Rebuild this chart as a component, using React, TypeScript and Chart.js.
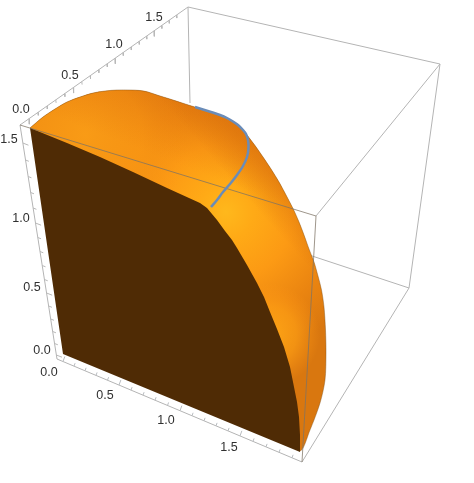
import React, { useEffect, useRef } from "react";
import { Chart, registerables } from "chart.js";

Chart.register(...registerables);

type P = [number, number];

const viewWidth = 474;
const viewHeight = 483;

// Bounding box corners
const boxFrontTopLeft: P = [20, 125];
const boxBackTop: P = [188, 7];
const boxBackRight: P = [440, 64];
const boxFrontTopRight: P = [316, 216];
const boxBottomLeft: P = [57, 359];
const boxBottomFront: P = [302, 462];
const boxBottomRight: P = [409, 288];
const boxHiddenBack: P = [190, 103];
const boxHiddenBottom: P = [300, 252];

// Surface silhouette (the last points lie under the dark cut face)
const surfaceOutline: P[] = [
  [30, 128], [43, 117], [55, 109], [67, 102], [80, 97], [93, 93], [105, 91], [117, 90], [130, 90], [140, 90.5],
  [148, 92], [157, 95], [173, 100], [190, 105.5], [203, 109.5], [217, 114], [227, 118], [236, 124], [242, 129],
  [247, 135], [255, 145.5], [263, 157], [271, 169], [279, 182], [286, 195], [293, 208.5], [299, 222], [304, 235],
  [309, 249], [314, 262], [318, 276], [321.5, 290], [324, 307], [325.5, 330], [326, 353], [325, 380], [320, 403], [310, 430],
  [300, 451], [285, 430], [200, 280], [100, 200],
];

// Flat dark cut face
const cutFace: P[] = [
  [30, 128], [67, 143], [100, 157], [133, 172], [167, 188], [200, 203], [207, 208], [217, 220], [225, 231],
  [232, 240], [237, 248], [247, 265], [257, 283], [264, 297], [270, 312], [277, 329], [284, 347], [290, 367],
  [294, 387], [297, 402], [299, 417], [300, 435], [300, 452], [63, 354],
];

// Blue curve on the surface
const blueCurve: P[] = [
  [211, 207], [217, 200], [223, 192], [230, 184], [237, 175], [243, 166], [247, 157], [248.5, 148], [248, 140],
  [246, 134], [243, 130], [238, 125], [233, 121.5], [227, 118], [220, 115], [211, 112], [203, 109.5], [195, 107],
];

// Tick positions read along the three axes (x of each tick, 0.1 apart)
const topAxisTicks = [29, 38, 47, 55.8, 64.6, 73.3, 81.8, 90.2, 98.6, 107, 115, 123, 131, 139, 146.5, 154, 161.6, 169, 176.5];
const leftAxisTicks = [355, 343.5, 331.5, 319, 306, 293, 279.5, 265.5, 251.5, 237.5, 223, 208, 192.5, 176.5, 160, 143];
const bottomAxisTicks = [63, 74, 85, 96, 107.5, 119, 131, 143, 155, 167.5, 180, 192, 204, 216, 228, 240, 253, 266, 279, 292];
const majorEvery = 5;

// Tick labels
const labelTexts = ["0.0", "0.5", "1.0", "1.5"];
const topAxisLabelPos: P[] = [[21, 110], [70, 76], [114, 45], [154, 18]];
const leftAxisLabelPos: P[] = [[42, 351], [32, 288], [21, 219], [9, 140]];
const bottomAxisLabelPos: P[] = [[49, 373], [105, 396], [166, 421], [229, 448]];

const seg = (...ps: P[]) => [...ps.map(([x, y]) => ({ x, y })), { x: NaN, y: NaN }];
const pts = (ps: P[]) => ps.map(([x, y]) => ({ x, y }));

const lerpOn = (a: P, b: P, x: number): P => [x, a[1] + ((x - a[0]) * (b[1] - a[1])) / (b[0] - a[0])];
const lerpOnY = (a: P, b: P, y: number): P => [a[0] + ((y - a[1]) * (b[0] - a[0])) / (b[1] - a[1]), y];

const topTicks = topAxisTicks.flatMap((x, i) => {
  const p = lerpOn(boxFrontTopLeft, boxBackTop, x);
  const l = i % majorEvery === 0 ? 5.5 : 3;
  return seg(p, [p[0] + 0.3, p[1] + l]);
});
const leftTicks = leftAxisTicks.flatMap((y, i) => {
  const p = lerpOnY(boxFrontTopLeft, boxBottomLeft, y);
  const l = i % majorEvery === 0 ? 1.7 : 1;
  return seg(p, [p[0] + 3.3 * l, p[1] + 1.3 * l]);
});
const bottomTicks = bottomAxisTicks.flatMap((x, i) => {
  const p = lerpOn(boxBottomLeft, boxBottomFront, x);
  const l = i % majorEvery === 0 ? 1.7 : 1;
  return seg(p, [p[0] + 1.1 * l, p[1] - 3 * l]);
});

const edgesBehind = [
  ...seg(boxFrontTopLeft, boxBackTop),
  ...seg(boxBackTop, boxBackRight),
  ...seg(boxBackTop, boxHiddenBack),
  ...seg(boxBackRight, boxFrontTopRight),
  ...seg(boxBackRight, boxBottomRight),
  ...seg(boxBottomRight, boxHiddenBottom),
  ...seg(boxBottomRight, boxBottomFront),
  ...seg(boxBottomFront, boxBottomLeft),
  ...seg(boxBottomLeft, boxFrontTopLeft),
];
const edgesFront = [...seg(boxFrontTopLeft, boxFrontTopRight), ...seg(boxFrontTopRight, boxBottomFront)];

type Stop = [number, string];
const radial = (cx: number, cy: number, r: number, stops: Stop[]) => (c: any) => {
  const px = (cx * c.chart.width) / viewWidth;
  const py = (cy * c.chart.height) / viewHeight;
  const g = c.chart.ctx.createRadialGradient(px, py, 0, px, py, r);
  stops.forEach(([o, col]) => g.addColorStop(o, col));
  return g;
};
const linear = (a: P, b: P, stops: Stop[]) => (c: any) => {
  const sx = c.chart.width / viewWidth;
  const sy = c.chart.height / viewHeight;
  const g = c.chart.ctx.createLinearGradient(a[0] * sx, a[1] * sy, b[0] * sx, b[1] * sy);
  stops.forEach(([o, col]) => g.addColorStop(o, col));
  return g;
};

const baseShade = radial(226, 212, 150, [
  [0, "#ffb81c"], [0.18, "#ffaa16"], [0.45, "#fc9a14"], [0.75, "#ea8410"], [1, "#d9770f"],
]);
const leftShade = radial(85, 135, 105, [
  [0, "rgba(250,156,22,0.97)"], [0.55, "rgba(250,152,20,0.8)"], [1, "rgba(250,150,20,0)"],
]);
const lowerBandShade = radial(268, 335, 52, [
  [0, "rgba(255,168,22,0.95)"], [0.55, "rgba(255,160,20,0.65)"], [1, "rgba(255,150,20,0)"],
]);
const topRimShade = linear([240, 190], [285, 150], [
  [0, "rgba(214,110,12,0)"], [0.55, "rgba(214,110,12,0.5)"], [1, "rgba(214,110,12,0.8)"],
]);
const topEdgeShade = linear([180, 165], [205, 100], [
  [0, "rgba(224,115,14,0)"], [1, "rgba(224,115,14,0.5)"],
]);

const lineDs = (data: any[], color: string, width: number, tension = 0) => ({
  data, borderColor: color, borderWidth: width, showLine: true, fill: false, pointRadius: 0, spanGaps: false, tension,
});
const shapeDs = (data: any[], bg: any, border = "rgba(0,0,0,0)", width = 0, tension = 0) => ({
  data, backgroundColor: bg, borderColor: border, borderWidth: width, showLine: true, fill: "shape", pointRadius: 0, tension,
});

export default function App() {
  const ref = useRef<HTMLCanvasElement>(null);
  useEffect(() => {
    const textPlugin = {
      id: "axisText",
      afterDatasetsDraw(chart: any) {
        const { ctx, scales } = chart;
        ctx.save();
        ctx.font = '12.5px "Liberation Sans"';
        ctx.fillStyle = "#303030";
        ctx.textAlign = "center";
        ctx.textBaseline = "middle";
        [topAxisLabelPos, leftAxisLabelPos, bottomAxisLabelPos].forEach((list) =>
          list.forEach(([x, y], i) => ctx.fillText(labelTexts[i], scales.x.getPixelForValue(x), scales.y.getPixelForValue(y)))
        );
        ctx.restore();
      },
    };
    const smooth = 0.3;
    // bottom layer first
    const layers: any[] = [
      lineDs(edgesBehind, "#b4b4b4", 1),
      lineDs(topTicks, "#b8b8b8", 1),
      lineDs(leftTicks, "#b8b8b8", 1),
      lineDs(bottomTicks, "#b8bcc0", 1),
      shapeDs(pts(surfaceOutline), baseShade, undefined, 0, smooth),
      shapeDs(pts(surfaceOutline), leftShade, undefined, 0, smooth),
      shapeDs(pts(surfaceOutline), lowerBandShade, undefined, 0, smooth),
      shapeDs(pts(surfaceOutline), topEdgeShade, undefined, 0, smooth),
      shapeDs(pts(surfaceOutline), topRimShade, "rgba(120,72,15,0.4)", 1, smooth),
      shapeDs(pts(cutFace), "#4f2b05"),
      lineDs(edgesFront, "rgba(125,115,100,0.75)", 1),
      lineDs(pts(blueCurve), "#6a8cb8", 2.5, smooth),
    ];
    layers.forEach((d, i) => (d.order = layers.length - i));
    const chart = new Chart(ref.current!, {
      type: "scatter",
      data: { datasets: layers },
      options: {
        animation: false,
        responsive: false,
        layout: { padding: 0 },
        plugins: { legend: { display: false }, tooltip: { enabled: false } },
        scales: {
          x: { type: "linear", display: false, min: 0, max: viewWidth },
          y: { type: "linear", display: false, min: 0, max: viewHeight, reverse: true },
        },
      },
      plugins: [textPlugin],
    } as any);
    return () => chart.destroy();
  }, []);
  return <canvas ref={ref} width={viewWidth} height={viewHeight} style={{ position: "absolute", left: 0, top: 0 }} />;
}
